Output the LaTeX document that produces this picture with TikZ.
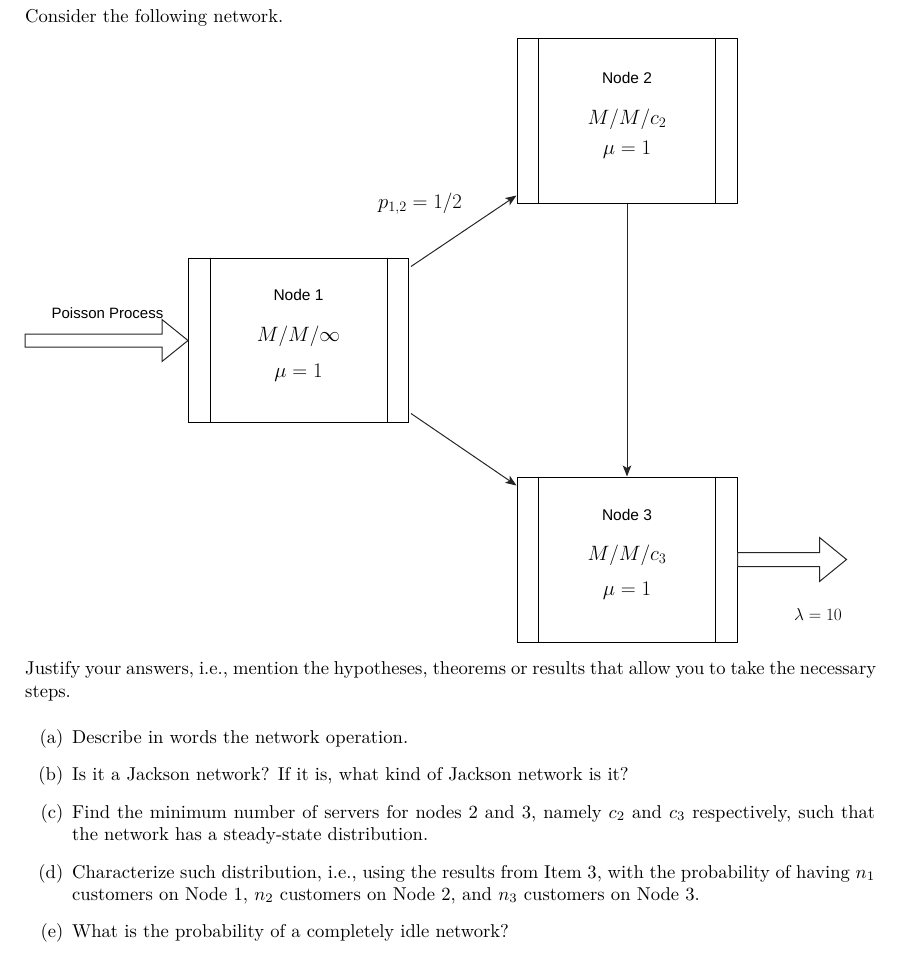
\documentclass[tikz,border=0pt]{standalone}
\usepackage{fontspec}
\usetikzlibrary{calc,arrows.meta}
\newfontfamily\drawfont{Liberation Sans}
\newcommand{\bt}[1]{\scalebox{1.86}{\fontsize{10}{12}\selectfont #1}}
\newcommand{\mathsz}{\fontsize{19.5}{23}\selectfont}
\begin{document}
\begin{tikzpicture}[x=1pt,y=-1pt,
  body/.style={anchor=base west,inner sep=0pt},
  lab/.style={anchor=base east,inner sep=0pt},
  qbox/.style={draw=black,line width=1pt,minimum width=220pt,minimum height=164pt,inner sep=0pt},
  sanslab/.style={inner sep=0pt,font=\drawfont\fontsize{15.5}{18}\selectfont},
  mathlab/.style={inner sep=0pt,font=\mathsz},
  conn/.style={draw=black!85,line width=1pt,-{Stealth[length=11pt,width=8.5pt,inset=2.5pt]}},
  blockarrow/.style={draw=black!85,line width=1pt,fill=white,line join=miter}
]
\useasboundingbox (0,0) rectangle (909,960);

% ---- header text
\node[body] (t0) at (25,23) {\bt{Consider the following network.}};

% ---- queue nodes
\node[qbox] (n1) at (298.5,340) {};
\node[qbox] (n2) at (627,121) {};
\node[qbox,minimum height=165pt] (n3) at (627,559.5) {};
\foreach \n in {n1,n2,n3}{
  \draw[line width=1pt] ($(\n.north west)+(22,0)$) -- ($(\n.south west)+(22,0)$);
  \draw[line width=1pt] ($(\n.north east)+(-22,0)$) -- ($(\n.south east)+(-22,0)$);
}

% texts in nodes
\node[sanslab] (n1a) at ($(n1.center)+(0,-45)$) {Node 1};
\node[mathlab] (n1b) at ($(n1.center)+(0,-4)$) {$M/M/\infty$};
\node[mathlab] (n1c) at ($(n1.center)+(0,32.5)$) {$\mu=1$};
\node[sanslab] (n2a) at ($(n2.center)+(0,-43)$) {Node 2};
\node[mathlab] (n2b) at ($(n2.center)+(0,-2)$) {$M/M/c_2$};
\node[mathlab] (n2c) at ($(n2.center)+(0,29)$) {$\mu=1$};
\node[sanslab] (n3a) at ($(n3.center)+(0,-44.5)$) {Node 3};
\node[mathlab] (n3b) at ($(n3.center)+(0,-4.5)$) {$M/M/c_3$};
\node[mathlab] (n3c) at ($(n3.center)+(0,31)$) {$\mu=1$};

% connectors
\draw[conn] ($(n1.north east)+(2,9)$) -- ($(n2.south west)+(0,-8)$);
\draw[conn] ($(n1.south east)+(2,-9)$) -- ($(n3.north west)+(0,9)$);
\draw[conn] (n2.south) -- (n3.north);
\node[mathlab] (p12) at (420,204) {$p_{1,2}=1/2$};

% input block arrow
\coordinate (inTip) at ($(n1.west)+(0,0.5)$);
\draw[blockarrow] (inTip) -- ++(-26,-21) -- ++(0,14.5) -- ++(-137,0) -- ++(0,13) -- ++(137,0) -- ++(0,14.5) -- cycle;
\node[inner sep=0pt,font=\drawfont\fontsize{15}{18}\selectfont] (pp) at (107.5,313) {Poisson Process};

% output block arrow
\coordinate (outS) at (n3.east);
\draw[blockarrow] (outS) ++(0,-7) -- ++(82,0) -- ++(0,-15) -- ++(27,22) -- ++(-27,22) -- ++(0,-15) -- ++(-82,0) -- cycle;
\node[inner sep=0pt,font=\fontsize{17.5}{20}\selectfont] (lam) at (818,614) {$\lambda=10$};

% ---- body text
\node[body] (j1) at (25,674) {\bt{\makebox[457.5pt][s]{Justify your answers, i.e., mention the hypotheses, theorems or results that allow you to take the necessary}}};
\node[body] (j2) at (25,697) {\bt{steps.}};

\node[lab] (la) at (63.5,743) {\bt{(a)}};
\node[body] (ia) at (72,743) {\bt{Describe in words the network operation.}};
\node[lab] (lb) at (63.5,780) {\bt{(b)}};
\node[body] (ib) at (72,780) {\bt{Is it a Jackson network? If it is, what kind of Jackson network is it?}};
\node[lab] (lc) at (63.5,818) {\bt{(c)}};
\node[body] (ic1) at (72,818) {\bt{\makebox[431.7pt][s]{Find the minimum number of servers for nodes 2 and 3, namely $c_2$ and $c_3$ respectively, such that}}};
\node[body] (ic2) at (72,840) {\bt{the network has a steady-state distribution.}};
\node[lab] (ld) at (63.5,878) {\bt{(d)}};
\node[body] (id1) at (72,878) {\bt{\makebox[431.7pt][s]{Characterize such distribution, i.e., using the results from Item 3, with the probability of having $n_1$}}};
\node[body] (id2) at (72,900) {\bt{customers on Node 1, $n_2$ customers on Node 2, and $n_3$ customers on Node 3.}};
\node[lab] (le) at (63.5,937) {\bt{(e)}};
\node[body] (ie) at (72,937) {\bt{What is the probability of a completely idle network?}};
\end{tikzpicture}
\end{document}
